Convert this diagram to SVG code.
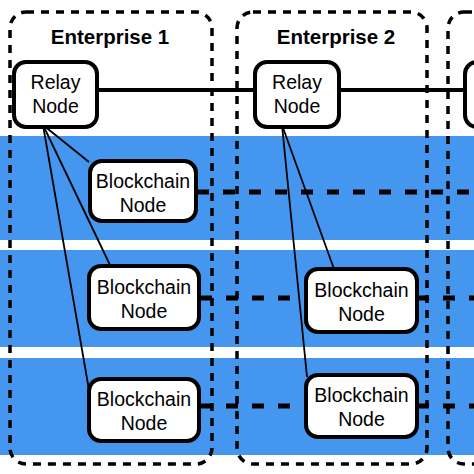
<svg xmlns="http://www.w3.org/2000/svg" width="474" height="474" viewBox="0 0 474 474">
<style>
.band{fill:#4596ee}
.ent{fill:none;stroke:#000;stroke-width:3.5;stroke-dasharray:8 7}
.node{fill:#fff;stroke:#000;stroke-width:4}
.t{font-family:"Liberation Sans",Arial,sans-serif;font-size:19.5px;text-anchor:middle;fill:#000}
.title{font-family:"Liberation Sans",Arial,sans-serif;font-size:20.5px;font-weight:bold;text-anchor:middle;fill:#000}
.solid{stroke:#000;stroke-width:4;fill:none}
.thin{stroke:#000;stroke-width:1.8;fill:none}
.dash{stroke:#000;stroke-width:5;stroke-dasharray:12 14;fill:none}
</style>
<rect width="474" height="474" fill="#fff"/>
<g id="bands">
<rect class="band" x="0" y="136" width="474" height="104"/>
<rect class="band" x="0" y="250" width="474" height="97"/>
<rect class="band" x="0" y="358" width="474" height="97"/>
</g>
<g id="enterprise1">
<rect class="ent" x="10" y="12" width="202" height="452" rx="16"/>
<text class="title" x="110" y="44">Enterprise 1</text>
</g>
<g id="enterprise2">
<rect class="ent" x="237" y="12" width="190" height="452" rx="16"/>
<text class="title" x="336" y="44">Enterprise 2</text>
</g>
<g id="enterprise3">
<rect class="ent" x="448" y="12" width="60" height="452" rx="16"/>
</g>
<g id="connectors">
<line class="solid" x1="97" y1="90" x2="255" y2="90"/>
<line class="solid" x1="339" y1="90" x2="466" y2="90"/>
<line class="thin" x1="43" y1="125" x2="89" y2="162"/>
<line class="thin" x1="43" y1="125" x2="110" y2="265"/>
<line class="thin" x1="43" y1="125" x2="89" y2="390"/>
<line class="thin" x1="282" y1="125" x2="334" y2="269"/>
<line class="thin" x1="282" y1="125" x2="307" y2="377"/>
<line class="dash" x1="197" y1="192" x2="474" y2="192"/>
<line class="dash" x1="200" y1="298" x2="306" y2="298"/>
<line class="dash" x1="417" y1="298" x2="474" y2="298"/>
<line class="dash" x1="200" y1="406" x2="306" y2="406"/>
<line class="dash" x1="417" y1="406" x2="474" y2="406"/>
</g>
<g id="relay1">
<rect class="node" x="14" y="62" width="83" height="65" rx="12"/>
<text class="t" x="55.5" y="89">Relay</text>
<text class="t" x="55.5" y="113">Node</text>
</g>
<g id="relay2">
<rect class="node" x="255" y="62" width="84" height="65" rx="12"/>
<text class="t" x="297" y="89">Relay</text>
<text class="t" x="297" y="113">Node</text>
</g>
<g id="relay3">
<rect class="node" x="465" y="62" width="60" height="65" rx="12"/>
</g>
<g id="bc1a">
<rect class="node" x="90" y="161" width="106" height="60" rx="12"/>
<text class="t" x="143" y="188">Blockchain</text>
<text class="t" x="143" y="212">Node</text>
</g>
<g id="bc1b">
<rect class="node" x="89" y="266" width="110" height="63" rx="12"/>
<text class="t" x="144" y="294">Blockchain</text>
<text class="t" x="144" y="318">Node</text>
</g>
<g id="bc1c">
<rect class="node" x="89" y="379" width="110" height="62" rx="12"/>
<text class="t" x="144" y="406">Blockchain</text>
<text class="t" x="144" y="430">Node</text>
</g>
<g id="bc2b">
<rect class="node" x="306" y="269" width="111" height="63" rx="12"/>
<text class="t" x="361.5" y="297">Blockchain</text>
<text class="t" x="361.5" y="321">Node</text>
</g>
<g id="bc2c">
<rect class="node" x="306" y="375" width="111" height="62" rx="12"/>
<text class="t" x="361.5" y="402">Blockchain</text>
<text class="t" x="361.5" y="426">Node</text>
</g>
</svg>
